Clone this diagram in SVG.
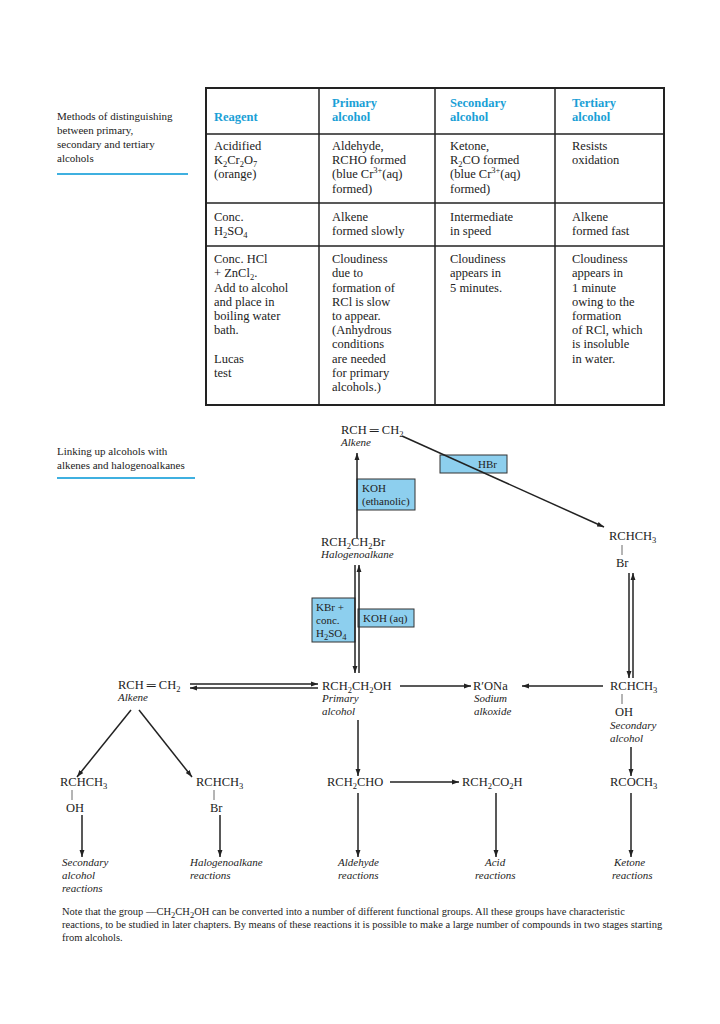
<svg xmlns="http://www.w3.org/2000/svg" width="720" height="1024" viewBox="0 0 720 1024">
<defs>
<marker id="ah" viewBox="0 0 10 10" refX="10" refY="5" markerWidth="7" markerHeight="7" orient="auto-start-reverse" markerUnits="userSpaceOnUse"><path d="M0,1.5 L10,5 L0,8.5 z" fill="#222"/></marker>
</defs>
<style>
text{font-family:"Liberation Serif",serif;font-size:12.5px;fill:#222}
.h{fill:#1a9fd6;font-weight:bold}
.i{font-style:italic;font-size:11px}
.s{font-size:11px}
.sub{font-size:8.5px}
.c{stroke:#222;stroke-width:1.5;fill:none;marker-end:url(#ah)}
.box{fill:#8dcfee;stroke:#333;stroke-width:1}
.side{font-size:11px}
.bar{stroke:#444;stroke-width:0.8}
</style>
<rect width="720" height="1024" fill="#fff"/>
<g id="side1"><text class="side" x="57" y="120">Methods of distinguishing</text><text class="side" x="57" y="134">between primary,</text><text class="side" x="57" y="148">secondary and tertiary</text><text class="side" x="57" y="162">alcohols</text><line x1="57" y1="174" x2="188" y2="174" stroke="#3fb0e0" stroke-width="2"/></g>
<g id="side2"><text class="side" x="57" y="455">Linking up alcohols with</text><text class="side" x="57" y="469">alkenes and halogenoalkanes</text><line x1="57" y1="478" x2="195" y2="478" stroke="#3fb0e0" stroke-width="2"/></g>
<g id="table">
<rect x="206" y="88" width="458" height="317" fill="none" stroke="#222" stroke-width="2"/>
<g stroke="#222" stroke-width="1.5"><line x1="206" y1="134" x2="664" y2="134"/><line x1="206" y1="203" x2="664" y2="203"/><line x1="206" y1="246" x2="664" y2="246"/><line x1="319" y1="88" x2="319" y2="405"/><line x1="435" y1="88" x2="435" y2="405"/><line x1="555" y1="88" x2="555" y2="405"/></g>
<text class="h" x="214" y="121">Reagent</text>
<text class="h" x="332" y="107">Primary</text><text class="h" x="332" y="121">alcohol</text>
<text class="h" x="450" y="107">Secondary</text><text class="h" x="450" y="121">alcohol</text>
<text class="h" x="572" y="107">Tertiary</text><text class="h" x="572" y="121">alcohol</text>
<text x="214" y="150">Acidified</text><text x="214" y="164">K<tspan class="sub" dy="3">2</tspan><tspan dy="-3">Cr</tspan><tspan class="sub" dy="3">2</tspan><tspan dy="-3">O</tspan><tspan class="sub" dy="3">7</tspan></text><text x="214" y="178">(orange)</text>
<text x="332" y="150">Aldehyde,</text><text x="332" y="164">RCHO formed</text><text x="332" y="178">(blue Cr<tspan class="sub" dy="-5">3+</tspan><tspan dy="5">(aq)</tspan></text><text x="332" y="193">formed)</text>
<text x="450" y="150">Ketone,</text><text x="450" y="164">R<tspan class="sub" dy="3">2</tspan><tspan dy="-3">CO formed</tspan></text><text x="450" y="178">(blue Cr<tspan class="sub" dy="-5">3+</tspan><tspan dy="5">(aq)</tspan></text><text x="450" y="193">formed)</text>
<text x="572" y="150">Resists</text><text x="572" y="164">oxidation</text>
<text x="214" y="221">Conc.</text><text x="214" y="235">H<tspan class="sub" dy="3">2</tspan><tspan dy="-3">SO</tspan><tspan class="sub" dy="3">4</tspan></text>
<text x="332" y="221">Alkene</text><text x="332" y="235">formed slowly</text>
<text x="450" y="221">Intermediate</text><text x="450" y="235">in speed</text>
<text x="572" y="221">Alkene</text><text x="572" y="235">formed fast</text>
<text x="214" y="263">Conc. HCl</text><text x="214" y="277">+ ZnCl<tspan class="sub" dy="3">2</tspan><tspan dy="-3">.</tspan></text><text x="214" y="292">Add to alcohol</text><text x="214" y="306">and place in</text><text x="214" y="320">boiling water</text><text x="214" y="334">bath.</text><text x="214" y="363">Lucas</text><text x="214" y="377">test</text>
<text x="332" y="263">Cloudiness</text><text x="332" y="277">due to</text><text x="332" y="292">formation of</text><text x="332" y="306">RCl is slow</text><text x="332" y="320">to appear.</text><text x="332" y="334">(Anhydrous</text><text x="332" y="348">conditions</text><text x="332" y="363">are needed</text><text x="332" y="377">for primary</text><text x="332" y="391">alcohols.)</text>
<text x="450" y="263">Cloudiness</text><text x="450" y="277">appears in</text><text x="450" y="292">5 minutes.</text>
<text x="572" y="263">Cloudiness</text><text x="572" y="277">appears in</text><text x="572" y="292">1 minute</text><text x="572" y="306">owing to the</text><text x="572" y="320">formation</text><text x="572" y="334">of RCl, which</text><text x="572" y="348">is insoluble</text><text x="572" y="363">in water.</text>
</g>
<g id="boxes">
<g id="b-koh-eth"><rect class="box" x="357" y="479" width="58" height="31"/><text x="362" y="492" class="s">KOH</text><text x="362" y="505" class="s">(ethanolic)</text></g>
<g id="b-hbr"><rect class="box" x="440" y="455" width="67" height="18"/><text x="478" y="468" class="s">HBr</text></g>
<g id="b-kbr"><rect class="box" x="312" y="598" width="43" height="44"/><text x="316" y="611" class="s">KBr +</text><text x="316" y="624" class="s">conc.</text><text x="316" y="637" class="s">H<tspan class="sub" dy="3">2</tspan><tspan dy="-3">SO</tspan><tspan class="sub" dy="3">4</tspan></text></g>
<g id="b-kohaq"><rect class="box" x="358" y="609" width="56" height="18"/><text x="363" y="622" class="s">KOH (aq)</text></g>
</g>
<g id="connectors">
<line class="c" x1="357" y1="538" x2="357" y2="453"/>
<line class="c" x1="402" y1="436" x2="604" y2="527"/>
<line class="c" x1="355" y1="565" x2="355" y2="673"/>
<line class="c" x1="359" y1="673" x2="359" y2="565"/>
<line class="c" x1="629" y1="573" x2="629" y2="678"/>
<line class="c" x1="633" y1="678" x2="633" y2="573"/>
<line class="c" x1="190" y1="684" x2="318" y2="684"/>
<line class="c" x1="318" y1="688" x2="190" y2="688"/>
<line class="c" x1="400" y1="686" x2="471" y2="686"/>
<line class="c" x1="603" y1="686" x2="522" y2="686"/>
<line class="c" x1="131" y1="710" x2="77" y2="777"/>
<line class="c" x1="139" y1="710" x2="192" y2="777"/>
<line class="c" x1="358" y1="720" x2="358" y2="776"/>
<line class="c" x1="390" y1="782" x2="459" y2="782"/>
<line class="c" x1="631" y1="747" x2="631" y2="776"/>
<line class="c" x1="82" y1="815" x2="82" y2="857"/>
<line class="c" x1="220" y1="815" x2="220" y2="857"/>
<line class="c" x1="358" y1="793" x2="358" y2="857"/>
<line class="c" x1="496" y1="793" x2="496" y2="857"/>
<line class="c" x1="631" y1="793" x2="631" y2="857"/>
</g>
<g id="n-alkene-top"><text x="341" y="434">RCH ═ CH<tspan class="sub" dy="3">2</tspan></text><text class="i" x="341" y="446">Alkene</text></g>
<g id="n-haloalkane"><text x="321" y="546">RCH<tspan class="sub" dy="3">2</tspan><tspan dy="-3">CH</tspan><tspan class="sub" dy="3">2</tspan><tspan dy="-3">Br</tspan></text><text class="i" x="321" y="558">Halogenoalkane</text></g>
<g id="n-2bromo"><text x="609" y="540">RCHCH<tspan class="sub" dy="3">3</tspan></text><line class="bar" x1="622" y1="545" x2="622" y2="555"/><text x="616" y="567">Br</text></g>
<g id="n-alkene-left"><text x="118" y="689">RCH ═ CH<tspan class="sub" dy="3">2</tspan></text><text class="i" x="118" y="701">Alkene</text></g>
<g id="n-primary"><text x="322" y="690">RCH<tspan class="sub" dy="3">2</tspan><tspan dy="-3">CH</tspan><tspan class="sub" dy="3">2</tspan><tspan dy="-3">OH</tspan></text><text class="i" x="322" y="702">Primary</text><text class="i" x="322" y="715">alcohol</text></g>
<g id="n-alkoxide"><text x="473" y="690">R′ONa</text><text class="i" x="474" y="702">Sodium</text><text class="i" x="474" y="715">alkoxide</text></g>
<g id="n-secondary"><text x="610" y="690">RCHCH<tspan class="sub" dy="3">3</tspan></text><line class="bar" x1="622" y1="694" x2="622" y2="704"/><text x="615" y="716">OH</text><text class="i" x="610" y="729">Secondary</text><text class="i" x="610" y="742">alcohol</text></g>
<g id="n-sec-oh"><text x="60" y="786">RCHCH<tspan class="sub" dy="3">3</tspan></text><line class="bar" x1="72" y1="790" x2="72" y2="800"/><text x="66" y="812">OH</text></g>
<g id="n-sec-br"><text x="196" y="786">RCHCH<tspan class="sub" dy="3">3</tspan></text><line class="bar" x1="214" y1="790" x2="214" y2="800"/><text x="210" y="812">Br</text></g>
<g id="n-aldehyde"><text x="327" y="786">RCH<tspan class="sub" dy="3">2</tspan><tspan dy="-3">CHO</tspan></text></g>
<g id="n-acid"><text x="462" y="786">RCH<tspan class="sub" dy="3">2</tspan><tspan dy="-3">CO</tspan><tspan class="sub" dy="3">2</tspan><tspan dy="-3">H</tspan></text></g>
<g id="n-ketone"><text x="610" y="786">RCOCH<tspan class="sub" dy="3">3</tspan></text></g>
<g id="n-r1"><text class="i" x="62" y="866">Secondary</text><text class="i" x="62" y="879">alcohol</text><text class="i" x="62" y="892">reactions</text></g>
<g id="n-r2"><text class="i" x="190" y="866">Halogenoalkane</text><text class="i" x="190" y="879">reactions</text></g>
<g id="n-r3"><text class="i" x="338" y="866">Aldehyde</text><text class="i" x="338" y="879">reactions</text></g>
<g id="n-r4"><text class="i" x="485" y="866">Acid</text><text class="i" x="475" y="879">reactions</text></g>
<g id="n-r5"><text class="i" x="614" y="866">Ketone</text><text class="i" x="612" y="879">reactions</text></g>
<g id="note">
<text x="62" y="915" style="font-size:10.5px">Note that the group ―CH<tspan class="sub" dy="3">2</tspan><tspan dy="-3">CH</tspan><tspan class="sub" dy="3">2</tspan><tspan dy="-3">OH can be converted into a number of different functional groups. All these groups have characteristic</tspan></text>
<text x="62" y="928" style="font-size:10.5px">reactions, to be studied in later chapters. By means of these reactions it is possible to make a large number of compounds in two stages starting</text>
<text x="62" y="941" style="font-size:10.5px">from alcohols.</text>
</g>
</svg>
